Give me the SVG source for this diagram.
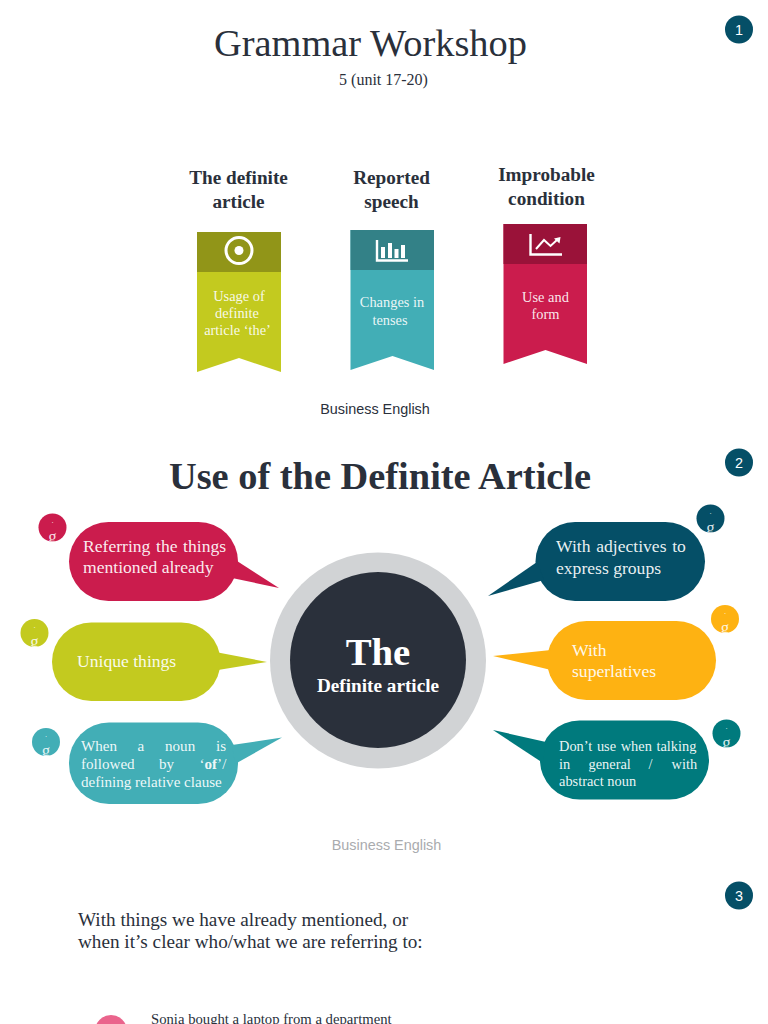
<svg xmlns="http://www.w3.org/2000/svg" width="768" height="1024" viewBox="0 0 768 1024">
<style>
text{font-family:"Liberation Serif","Times New Roman",serif}
.d{fill:#2a303b}
.c{text-anchor:middle}
.h{font-size:19.200px;font-weight:700;text-anchor:middle;fill:#2a303b}
.w{fill:#fff}
.rb{font-size:14.400px;text-anchor:middle;fill:#fff;fill-opacity:.9}
.s{font-family:"Liberation Sans",Arial,sans-serif;font-size:14.400px;text-anchor:middle}
.b{font-size:17.600px;fill:#fff;fill-opacity:.93}
.b2{font-size:15.100px;fill:#fff;fill-opacity:.93}
.b3{font-size:14.400px;fill:#fff;fill-opacity:.93}
.n{font-family:"Liberation Sans",Arial,sans-serif;font-size:14.400px;fill:#fff;text-anchor:middle}
.t{font-size:17px;fill:#fff;text-anchor:middle;fill-opacity:.85}
.p{font-size:8px;fill:#fff;text-anchor:middle;fill-opacity:.85}
.i{fill:none;stroke:#fff;stroke-width:2.400}
</style>
<defs>
<clipPath id="c1"><circle cx="52.500" cy="527.500" r="14"/></clipPath>
<clipPath id="c2"><circle cx="34.500" cy="633" r="14"/></clipPath>
<clipPath id="c3"><circle cx="46" cy="742" r="14"/></clipPath>
<clipPath id="c4"><circle cx="710.500" cy="518.500" r="14"/></clipPath>
<clipPath id="c5"><circle cx="725" cy="619" r="14"/></clipPath>
<clipPath id="c6"><circle cx="726.500" cy="733.500" r="14"/></clipPath>
</defs>
<g id="title">
<text x="370.500" y="56" class="c d" font-size="38.400">Grammar Workshop</text>
<text x="383.500" y="85" class="c d" font-size="16">5 (unit 17-20)</text>
</g>
<g id="badge-1"><circle cx="739" cy="29.500" r="14" fill="#054f67"/><text x="739" y="35" class="n">1</text></g>
<g id="badge-2"><circle cx="739" cy="462.500" r="14" fill="#054f67"/><text x="739" y="468" class="n">2</text></g>
<g id="badge-3"><circle cx="739" cy="895.500" r="14" fill="#054f67"/><text x="739" y="901" class="n">3</text></g>

<g id="ribbon-1">
<text x="238.500" y="184" class="h">The definite</text><text x="238.500" y="208" class="h">article</text>
<path d="M197 232H281V372L239 358L197 372Z" fill="#c3ca1f"/>
<rect x="197" y="232" width="84" height="40" fill="#919518"/>
<circle cx="239" cy="250.500" r="13" class="i" style="stroke-width:3"/><circle cx="239" cy="250.500" r="4.500" fill="#fff"/>
<text x="239" y="301" class="rb">Usage of</text><text x="237" y="318" class="rb">definite</text><text x="237.500" y="335" class="rb">article ‘the’</text>
</g>
<g id="ribbon-2">
<text x="391.500" y="184" class="h">Reported</text><text x="391.500" y="208" class="h">speech</text>
<path d="M350.500 230H434V370L392.500 356L350.500 370Z" fill="#42aeb6"/>
<rect x="350.500" y="230" width="83.500" height="40" fill="#338187"/>
<path d="M377 240V260.500H408" class="i"/>
<path d="M381 247h4v11h-4zM388 243h4v15h-4zM394.500 249h4v9h-4zM401 245h4v13h-4z" fill="#fff"/>
<text x="392" y="307" class="rb">Changes in</text><text x="390" y="325" class="rb">tenses</text>
</g>
<g id="ribbon-3">
<text x="546.500" y="181" class="h">Improbable</text><text x="546.500" y="205" class="h">condition</text>
<path d="M503.500 224H587V364L545.500 350L503.500 364Z" fill="#cb1c4d"/>
<rect x="503.500" y="224" width="83.500" height="40" fill="#9a1239"/>
<path d="M530.500 234V254.500H562" class="i"/>
<path d="M536 249L544 240L550.500 246L558 239" class="i" style="stroke-width:2"/><path d="M554 238.500L560.500 237L559.500 243.500Z" fill="#fff"/>
<text x="545.500" y="302" class="rb">Use and</text><text x="545.500" y="319" class="rb">form</text>
</g>
<text x="375" y="414" class="s" fill="#2a303b">Business English</text>

<text x="380" y="489" class="c d" font-size="38.400" font-weight="700">Use of the Definite Article</text>

<g id="hub">
<circle cx="378" cy="660.500" r="108" fill="#d1d3d5"/>
<circle cx="378" cy="660" r="88" fill="#2a303b"/>
<text x="378" y="665" class="c w" font-size="38.800" font-weight="700">The</text>
<text x="378" y="692" class="c w" font-size="19.200" font-weight="700">Definite article</text>
</g>

<g id="bubble-1" fill="#cb1c4d">
<rect x="69" y="522" width="169" height="79" rx="39.500"/>
<path d="M237 561L279 588L232 578Z"/>
<circle cx="52.500" cy="527.500" r="14"/>
<g clip-path="url(#c1)"><text x="52.500" y="524.500" class="p">·</text><text x="52.500" y="541.500" class="t">g</text></g>
<text x="83" y="552" class="b" word-spacing="1.200">Referring the things</text><text x="83" y="573" class="b">mentioned already</text>
</g>
<g id="bubble-2" fill="#c3ca1f">
<rect x="52" y="622.500" width="168.500" height="78.500" rx="39.250"/>
<path d="M218 652.500L267 662L218 670Z"/>
<circle cx="34.500" cy="633" r="14"/>
<g clip-path="url(#c2)"><text x="34.500" y="630" class="p">·</text><text x="34.500" y="647" class="t">g</text></g>
<text x="77" y="667" class="b">Unique things</text>
</g>
<g id="bubble-3" fill="#42aeb6">
<rect x="69" y="722.500" width="169" height="81.500" rx="40"/>
<path d="M232 745L282 737.500L235 764Z"/>
<circle cx="46" cy="742" r="14"/>
<g clip-path="url(#c3)"><text x="46" y="739" class="p">·</text><text x="46" y="756" class="t">g</text></g>
<text class="b2" y="751"><tspan x="81">When</tspan><tspan x="137.500">a</tspan><tspan x="165">noun</tspan><tspan x="216">is</tspan></text>
<text class="b2" y="769"><tspan x="81">followed</tspan><tspan x="159">by</tspan><tspan x="199.500">‘<tspan font-weight="700">of</tspan>’/</tspan></text>
<text class="b2" x="81" y="787">defining relative clause</text>
</g>
<g id="bubble-4" fill="#054f67">
<rect x="535.500" y="522" width="169.500" height="79" rx="39.500"/>
<path d="M537 562L488 596L544 580Z"/>
<circle cx="710.500" cy="518.500" r="14"/>
<g clip-path="url(#c4)"><text x="710.500" y="515.500" class="p">·</text><text x="710.500" y="532.500" class="t">g</text></g>
<text x="556" y="552" class="b" word-spacing="1.300">With adjectives to</text><text x="556" y="573.500" class="b">express groups</text>
</g>
<g id="bubble-5" fill="#feb212">
<rect x="547" y="621" width="169" height="79" rx="39.500"/>
<path d="M551 650L493 656L551 670Z"/>
<circle cx="725" cy="619" r="14"/>
<g clip-path="url(#c5)"><text x="725" y="616" class="p">·</text><text x="725" y="633" class="t">g</text></g>
<text x="572" y="656" class="b">With</text><text x="572" y="677" class="b">superlatives</text>
</g>
<g id="bubble-6" fill="#007a7d">
<rect x="540" y="720.500" width="169" height="79" rx="39.500"/>
<path d="M546 742L493 730L543 763Z"/>
<circle cx="726.500" cy="733.500" r="14"/>
<g clip-path="url(#c6)"><text x="726.500" y="730.500" class="p">·</text><text x="726.500" y="747.500" class="t">g</text></g>
<text class="b3" x="559" y="751" word-spacing="1">Don’t use when talking</text>
<text class="b3" y="768.500"><tspan x="559">in</tspan><tspan x="588.500">general</tspan><tspan x="648.500">/</tspan><tspan x="671.500">with</tspan></text>
<text class="b3" x="559" y="785.500">abstract noun</text>
</g>
<text x="386.500" y="850" class="s" fill="#a9abae">Business English</text>

<g id="body">
<text x="78" y="926" font-size="19.200" class="d">With things we have already mentioned, or</text>
<text x="78" y="948" font-size="19.200" class="d">when it’s clear who/what we are referring to:</text>
<circle cx="111" cy="1031" r="16" fill="#ea648c"/>
<text x="151" y="1024" font-size="14.700" class="d">Sonia bought a laptop from a department</text>
</g>
</svg>
